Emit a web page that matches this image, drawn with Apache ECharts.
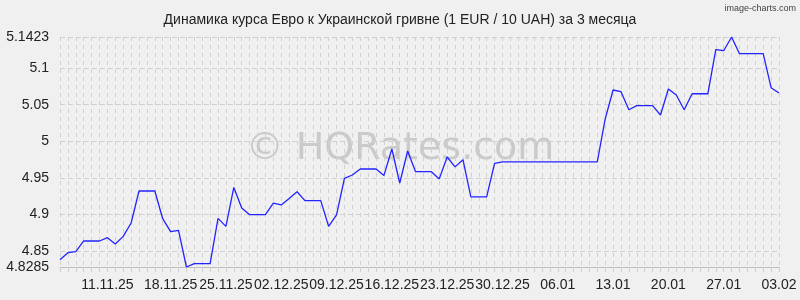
<!DOCTYPE html>
<html>
<head>
<meta charset="utf-8">
<script src="https://cdn.jsdelivr.net/npm/echarts@6/dist/echarts.min.js"></script>
<style>
html,body{margin:0;padding:0;background:#f0f0f0;}
#chart{width:800px;height:300px;}
</style>
</head>
<body>
<div id="chart"></div>
<script>
// EUR/UAH (1 EUR / 10 UAH) rate, one value per plotted point
const values = [
  4.8385, 4.8480, 4.8494, 4.8640, 4.8640, 4.8640, 4.8685, 4.8599, 4.8703, 4.8885,
  4.9322, 4.9322, 4.9322, 4.8944, 4.8767, 4.8785, 4.8285, 4.8330, 4.8330, 4.8330,
  4.8948, 4.8839, 4.9371, 4.9090, 4.8999, 4.8999, 4.8999, 4.9158, 4.9131, 4.9221,
  4.9312, 4.9190, 4.9190, 4.9190, 4.8839, 4.8995, 4.9494, 4.9540, 4.9622, 4.9622,
  4.9622, 4.9535, 4.9895, 4.9431, 4.9868, 4.9585, 4.9585, 4.9585, 4.9487, 4.9786,
  4.9651, 4.9749, 4.9243, 4.9243, 4.9243, 4.9700, 4.9718, 4.9718, 4.9718, 4.9718,
  4.9718, 4.9718, 4.9718, 4.9718, 4.9718, 4.9718, 4.9718, 4.9718, 4.9718, 5.0304,
  5.0700, 5.0677, 5.0431, 5.0486, 5.0486, 5.0486, 5.0359, 5.0714, 5.0632, 5.0431,
  5.0649, 5.0649, 5.0649, 5.1250, 5.1236, 5.1423, 5.1195, 5.1195, 5.1195, 5.1195,
  5.0731, 5.0659
];
// one category per plotted point
const categories = values.map((v, i) => String(i));

// weekly x tick labels and the point they sit on
const xTickIndex = [6, 14, 21, 28, 35, 42, 49, 56, 63, 70, 77, 84, 91];
const xTickLabels = ['11.11.25','18.11.25','25.11.25','02.12.25','09.12.25','16.12.25',
  '23.12.25','30.12.25','06.01','13.01','20.01','27.01','03.02'];

// y ticks
const yMin = 4.8285, yMax = 5.1423;
const yTickValues = [4.8285, 4.85, 4.9, 4.95, 5, 5.05, 5.1, 5.1423];
const yTickLabels = ['4.8285', '4.85', '4.9', '4.95', '5', '5.05', '5.1', '5.1423'];

const FONT = '"Liberation Sans", Arial, sans-serif';
const chart = echarts.init(document.getElementById('chart'), null, {renderer: 'canvas'});
chart.setOption({
  backgroundColor: '#f0f0f0',
  animation: false,
  title: {
    text: 'Динамика курса Евро к Украинской гривне (1 EUR / 10 UAH) за 3 месяца',
    left: 'center', top: 8,
    textStyle: {fontFamily: FONT, fontSize: 14, fontWeight: 'normal', color: '#222'}
  },
  graphic: [
    {type: 'text', z: 0, left: 'center', top: 130,
      style: {text: '© HQRates.com', font: '38px "DejaVu Sans", Verdana, sans-serif', fill: '#cacaca'}},
    {type: 'text', z: 5, right: 4, top: 4,
      style: {text: 'image-charts.com', font: '9px "Liberation Sans", Arial, sans-serif', fill: '#444'}}
  ],
  grid: {left: 60, right: 21, top: 37, bottom: 33, containLabel: false},
  xAxis: {
    type: 'category', data: categories, boundaryGap: false,
    axisLine: {show: true, lineStyle: {color: '#bdbdbd', width: 1}},
    axisTick: {show: true, interval: 0, length: 5, lineStyle: {color: '#cfcfcf'}},
    axisLabel: {
      show: true, margin: 11, hideOverlap: false,
      interval: function (i) { return xTickIndex.indexOf(i) >= 0; },
      fontFamily: FONT, fontSize: 14, color: '#222',
      formatter: function (v) { const k = xTickIndex.indexOf(Number(v)); return k >= 0 ? xTickLabels[k] : ''; }
    },
    splitLine: {show: true, interval: 0, lineStyle: {color: '#d0d0d0', type: [4, 4], width: 1}}
  },
  yAxis: {
    type: 'value', min: yMin, max: yMax,
    axisLine: {show: false},
    axisTick: {show: false, customValues: yTickValues},
    axisLabel: {
      customValues: yTickValues, margin: 11, hideOverlap: false,
      fontFamily: FONT, fontSize: 14, color: '#222',
      formatter: function (v) {
        let best = 0;
        yTickValues.forEach((t, i) => { if (Math.abs(t - v) < Math.abs(yTickValues[best] - v)) best = i; });
        return yTickLabels[best];
      }
    },
    splitLine: {show: true, lineStyle: {color: '#d0d0d0', type: [5, 3], width: 1}}
  },
  series: [{
    type: 'line', data: values, symbol: 'none', z: 3,
    lineStyle: {color: '#2323ff', width: 1.3}
  }]
});
</script>
</body>
</html>
